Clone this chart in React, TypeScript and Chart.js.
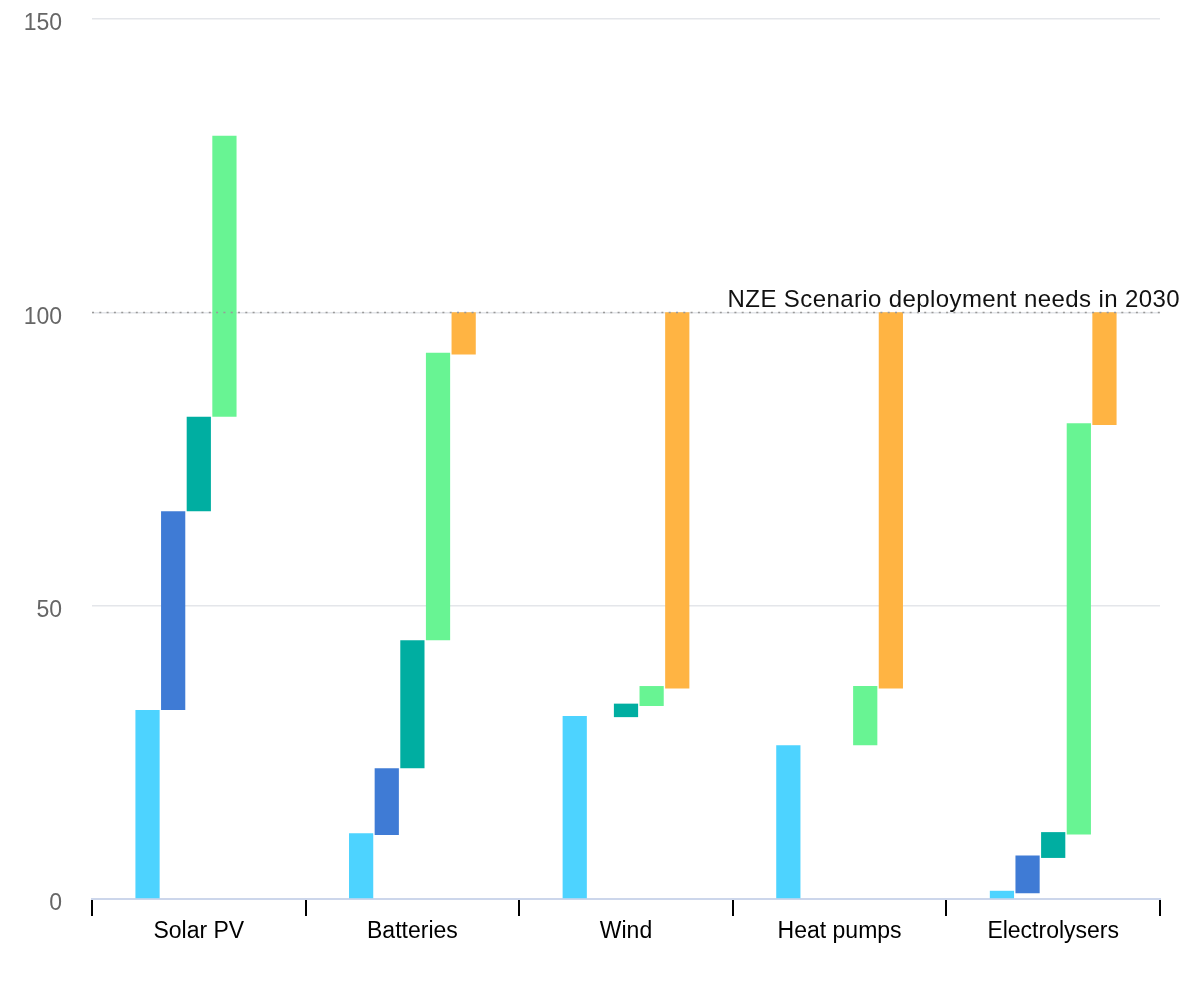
import { useEffect, useRef } from "react"
import { Chart, registerables } from "chart.js"

Chart.register(...registerables)

const categories = ["Solar PV", "Batteries", "Wind", "Heat pumps", "Electrolysers"]

// floating bars: [start, end]
const existing: ([number, number] | null)[] = [[0, 32.2], [0, 11.2], [0, 31.2], [0, 26.2], [0, 1.4]]
const underConstruction: ([number, number] | null)[] = [[32.2, 66.1], [10.9, 22.3], null, null, [1.0, 7.4]]
const committed: ([number, number] | null)[] = [[66.1, 82.2], [22.3, 44.1], [31.0, 33.3], null, [7.0, 11.4]]
const announced: ([number, number] | null)[] = [[82.2, 130.1], [44.1, 93.1], [32.9, 36.3], [26.2, 36.3], [11.0, 81.1]]
const gap: ([number, number] | null)[] = [null, [92.8, 100], [35.9, 100], [35.9, 100], [80.8, 100]]

const yTicks = [0, 50, 100, 150]
const nzeLevel = 100
const nzeLabel = "NZE Scenario deployment needs in 2030"

const FONT = "'Liberation Sans', Arial, sans-serif"

const nzeLine = {
  id: "nzeLine",
  afterDatasetsDraw(chart: Chart) {
    const { ctx, chartArea } = chart
    const y = Math.round(chart.scales.y.getPixelForValue(nzeLevel)) + 0.5
    ctx.save()
    ctx.strokeStyle = "#999"
    ctx.lineWidth = 1.5
    ctx.setLineDash([2, 5.3])
    ctx.beginPath()
    ctx.moveTo(chartArea.left, y)
    ctx.lineTo(chartArea.right, y)
    ctx.stroke()
    ctx.setLineDash([])
    ctx.fillStyle = "#111"
    ctx.font = `24px ${FONT}`
    ;(ctx as any).letterSpacing = "0.4px"
    ctx.textAlign = "right"
    ctx.textBaseline = "alphabetic"
    ctx.fillText(nzeLabel, 1180, y - 6)
    ctx.restore()
  },
}

export default function App() {
  const chartRef = useRef<HTMLCanvasElement>(null)
  const chartInstance = useRef<Chart | null>(null)

  useEffect(() => {
    if (!chartRef.current) return
    if (chartInstance.current) chartInstance.current.destroy()
    const ctx = chartRef.current.getContext("2d")
    if (!ctx) return

    const series = [
      { label: "Existing", data: existing, color: "#4dd3ff" },
      { label: "Under construction", data: underConstruction, color: "#3f7bd5" },
      { label: "Committed", data: committed, color: "#00aea1" },
      { label: "Announced", data: announced, color: "#68f493" },
      { label: "Gap", data: gap, color: "#ffb443" },
    ]

    chartInstance.current = new Chart(ctx, {
      type: "bar",
      data: {
        labels: categories,
        datasets: series.map((s) => ({
          label: s.label,
          data: s.data as any,
          backgroundColor: s.color,
          borderWidth: 0,
          categoryPercentage: 0.6,
          barPercentage: 0.945,
        })),
      },
      options: {
        responsive: true,
        maintainAspectRatio: false,
        animation: false,
        layout: { padding: { top: 19, right: 40, left: 0, bottom: 0 } },
        plugins: {
          legend: { display: false },
          tooltip: { enabled: false },
        },
        scales: {
          x: {
            grid: {
              offset: true,
              drawOnChartArea: false,
              drawTicks: true,
              tickLength: 17,
              color: "#000",
              lineWidth: 2,
            },
            border: { display: true, color: "#ccd6eb", width: 2 },
            ticks: {
              color: "#000",
              font: { family: FONT, size: 23 },
              padding: 2,
            },
            afterFit: (scale: any) => {
              scale.height = 101
            },
          },
          y: {
            min: 0,
            max: 150,
            afterBuildTicks: (scale: any) => {
              scale.ticks = yTicks.map((v) => ({ value: v }))
            },
            grid: { color: "#e4e6ea", lineWidth: 1.5, drawTicks: false },
            border: { display: false },
            ticks: {
              color: "#666",
              font: { family: FONT, size: 23 },
              padding: 30,
              labelOffset: 5,
            },
            afterFit: (scale: any) => {
              scale.width = 92
              scale.paddingTop = 0
              scale.paddingBottom = 0
            },
          },
        },
      },
      plugins: [nzeLine],
    })

    return () => {
      if (chartInstance.current) {
        chartInstance.current.destroy()
        chartInstance.current = null
      }
    }
  }, [])

  return (
    <div style={{ position: "absolute", left: 0, top: 0, width: 1200, height: 1000, background: "#fff" }}>
      <canvas ref={chartRef}></canvas>
    </div>
  )
}
